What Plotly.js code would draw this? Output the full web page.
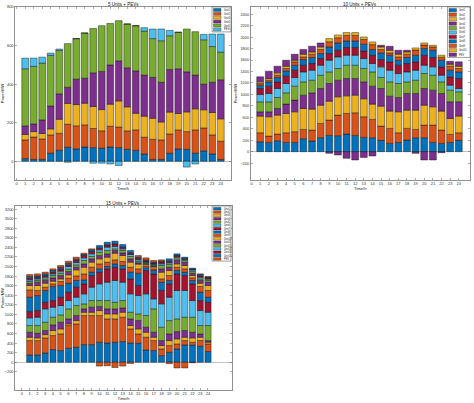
<!DOCTYPE html>
<html><head><meta charset="utf-8">
<script src="https://cdn.plot.ly/plotly-3.0.1.min.js"></script>
<style>html,body{margin:0;padding:0;background:#fff}#chart{width:474px;height:403px}</style>
</head><body><div id="chart"></div>
<script>
// ---------- data ----------
const hours = [1,2,3,4,5,6,7,8,9,10,11,12,13,14,15,16,17,18,19,20,21,22,23,24];
const tickVals = [0,1,2,3,4,5,6,7,8,9,10,11,12,13,14,15,16,17,18,19,20,21,22,23,24];
const tickText = ['0','1','2','3','4','5','6','7','8','9','10','11','12','13','14','15','16','17','18','19','20','21','22','23','24'];

// Panel 1: 5 Units + PEVs
const p1Names = ['Unit1','Unit2','Unit3','Unit4','Unit5','PEVs'];
const p1U1 = [14,10,10,42,57,73,64,74,71,68,74,71,62,57,38,10,10,42,64,62,42,54,38,10];
const p1U2 = [97,116,106,95,88,119,120,115,99,90,108,107,96,106,87,104,101,100,99,92,121,119,99,94];
const p1U3 = [28,28,28,31,73,108,110,112,114,110,114,135,124,86,109,109,93,113,85,102,109,94,116,116];
const p1U4 = [45,40,71,119,132,84,132,130,175,198,204,208,203,220,213,212,206,221,232,208,175,133,157,203];
const p1U5 = [296,298,294,262,225,226,210,234,230,237,215,208,227,234,228,201,215,175,189,222,225,230,185,143];
const p1PEV = [55,43,31,12,7,-5,0,0,-10,-10,-14,-22,0,0,18,50,61,28,0,-30,-14,28,65,94];

// Panel 2: 10 Units + PEVs
const p2Names = ['Unit1','Unit2','Unit3','Unit4','Unit5','Unit6','Unit7','Unit8','Unit9','Unit10','PEV'];
const p2U1 = [174,163,192,163,163,227,186,244,285,279,308,285,250,244,198,145,163,203,244,244,163,145,163,198];
const p2U2 = [157,110,116,168,186,162,192,250,267,360,360,395,360,320,249,262,168,204,145,221,302,233,139,133];
const p2U3 = [291,337,331,337,348,366,366,319,331,320,308,308,314,267,349,302,366,319,337,348,319,331,279,291];
const p2U4 = [75,87,116,163,204,233,284,291,308,290,302,290,296,314,308,261,250,291,291,291,291,308,291,250];
const p2U5 = [174,174,192,197,244,232,221,232,203,204,233,233,233,249,192,250,244,203,232,261,261,203,203,174];
const p2U6 = [129,146,157,163,151,174,175,175,204,203,174,174,174,146,186,204,174,174,175,146,146,116,87,58];
const p2U7 = [104,128,116,128,128,117,116,116,116,116,134,134,134,145,127,145,146,146,145,174,163,146,145,174];
const p2U8 = [58,75,76,93,87,98,105,87,116,128,116,116,116,99,117,116,87,105,116,116,127,116,117,116];
const p2U9 = [29,29,40,41,58,47,58,70,90,90,95,95,83,86,58,41,58,58,90,61,58,52,69,59];
const p2U10 = [29,29,41,40,29,47,40,46,55,49,50,50,44,47,46,46,47,40,38,38,29,35,35,40];
const p2PEV = [87,128,116,105,104,81,99,70,-29,-58,-116,-145,-99,-75,29,70,69,29,-29,-145,-145,-17,52,76];

// Panel 3: 15 Units + PEVs
const p3Names = ['Unit1','Unit2','Unit3','Unit4','Unit5','Unit6','Unit7','Unit8','Unit9','Unit10','Unit11','Unit12','Unit13','Unit14','Unit15','PEV'];
const p3U1 = [153,153,195,265,244,293,314,369,369,418,404,418,432,404,397,258,244,139,209,279,362,362,335,223];
const p3U2 = [300,300,314,293,348,474,487,607,607,558,502,488,509,293,195,265,209,140,139,104,91,56,118,160];
const p3U3 = [70,56,69,104,105,34,70,69,69,104,104,104,104,70,105,104,70,69,105,105,70,91,70,35];
const p3U4 = [104,97,84,119,139,105,105,70,105,84,105,105,91,139,174,105,104,105,139,153,139,118,69,35];
const p3U5 = [140,161,174,160,154,209,209,105,139,125,174,139,153,139,139,244,488,279,279,265,279,314,175,314];
const p3U6 = [160,174,279,209,195,174,174,209,279,349,384,454,384,384,384,453,209,488,488,593,558,348,313,278];
const p3U7 = [132,139,139,139,174,175,209,209,244,244,279,278,279,313,209,488,523,279,279,348,313,349,209,209];
const p3U8 = [300,314,245,293,244,188,140,84,70,70,49,70,69,140,258,58,70,174,70,70,70,70,175,105];
const p3U9 = [154,105,69,56,84,105,97,125,104,104,90,84,84,104,91,40,35,69,104,69,70,56,118,140];
const p3U10 = [90,104,84,56,55,69,126,139,105,105,105,139,125,105,98,30,38,140,105,70,69,48,70,104];
const p3U11 = [49,70,56,70,70,70,55,70,70,69,69,56,56,70,30,20,30,70,69,70,70,49,56,70];
const p3U12 = [35,35,34,48,49,49,49,70,49,70,70,35,49,49,25,20,20,69,56,35,35,42,34,35];
const p3U13 = [35,34,35,35,42,56,49,56,55,49,70,49,35,41,35,15,15,35,35,35,21,28,35,28];
const p3U14 = [34,35,35,35,49,34,42,48,49,42,48,55,35,35,30,20,15,35,35,34,21,14,28,28];
const p3U15 = [35,28,35,35,34,35,28,21,35,49,56,56,55,49,25,20,21,21,49,35,28,21,28,13];
const p3PEV = [42,42,35,35,35,42,42,28,21,-80,-75,-110,-80,-25,35,42,35,28,-30,-120,-120,-10,14,14];

const colors = ['#0072BD','#D95319','#EDB120','#7E2F8E','#77AC30','#4DBEEE','#A2142F'];

const panels = [
  {names:p1Names, series:[p1U1,p1U2,p1U3,p1U4,p1U5,p1PEV], xa:'x', ya:'y'},
  {names:p2Names, series:[p2U1,p2U2,p2U3,p2U4,p2U5,p2U6,p2U7,p2U8,p2U9,p2U10,p2PEV], xa:'x2', ya:'y2'},
  {names:p3Names, series:[p3U1,p3U2,p3U3,p3U4,p3U5,p3U6,p3U7,p3U8,p3U9,p3U10,p3U11,p3U12,p3U13,p3U14,p3U15,p3PEV], xa:'x3', ya:'y3'}
];

const traces = [];
panels.forEach(p => {
  p.series.forEach((s, i) => {
    traces.push({
      type:'bar', x:hours, y:s, name:p.names[i], xaxis:p.xa, yaxis:p.ya,
      marker:{color:colors[i % colors.length], line:{color:'#000', width:0.4}},
      showlegend:false, hoverinfo:'name+y'
    });
  });
});

// ---------- layout ----------
const W = 474, H = 403;
const px = v => v / W, py = v => 1 - v / H;
const FONT = 'Liberation Sans, Arial, sans-serif';
const tickFont = {family:FONT, size:4, color:'#333'};

function xAxis(dom, range, anchor) {
  return {domain:dom, range:range, anchor:anchor, tickvals:tickVals, ticktext:tickText,
    tickfont:tickFont, ticks:'inside', ticklen:2, tickwidth:0.4, tickcolor:'#333',
    showline:true, linecolor:'#444', linewidth:0.6, mirror:'ticks', showgrid:false, zeroline:false,
    title:{text:'Time/h', font:{family:FONT, size:4, color:'#222'}, standoff:1}, automargin:false};
}
function yAxis(dom, range, anchor, tv) {
  return {domain:dom, range:range, anchor:anchor, tickvals:tv,
    tickfont:tickFont, ticks:'inside', ticklen:2, tickwidth:0.4, tickcolor:'#333',
    showline:true, linecolor:'#444', linewidth:0.6, mirror:'ticks', showgrid:false,
    zeroline:true, zerolinecolor:'#888', zerolinewidth:0.5,
    title:{text:'Power/MW', font:{family:FONT, size:4, color:'#222'}, standoff:2}, automargin:false};
}
const tv1 = [0,200,400,600,800];
const tv2 = [-200,0,200,400,600,800,1000,1200,1400,1600,1800,2000,2200,2400];
const tv3 = [-200,0,200,400,600,800,1000,1200,1400,1600,1800,2000,2200,2400,2600,2800,3000,3200];

const layout = {
  width:W, height:H, margin:{l:0,r:0,t:0,b:0}, paper_bgcolor:'#fff', plot_bgcolor:'#fff',
  barmode:'relative', bargap:0.2, showlegend:false,
  font:{family:FONT},
  xaxis: xAxis([px(15), px(231)], [-0.2, 25.2], 'y'),
  yaxis: yAxis([py(180), py(7)], [-97, 800], 'x', tv1),
  xaxis2: xAxis([px(250.7), px(470)], [-0.1, 25.3], 'y2'),
  yaxis2: yAxis([py(180), py(7)], [-494, 2527], 'x2', tv2),
  xaxis3: xAxis([px(15), px(232)], [-0.9, 27.1], 'y3'),
  yaxis3: yAxis([py(390), py(206)], [-580, 3265], 'x3', tv3),
  shapes:[], annotations:[]
};

// panel titles
[['5 Units + PEVs', 123, 4.3], ['10 Units + PEVs', 360, 4.3], ['15 Units + PEVs', 123, 203]].forEach(t => {
  layout.annotations.push({text:t[0], x:px(t[1]), y:py(t[2]), xref:'paper', yref:'paper',
    showarrow:false, xanchor:'center', yanchor:'middle', font:{family:FONT, size:4.5, color:'#111'}});
});

// legends (drawn as layout items)
function addLegend(names, x0, y0, w, itemH) {
  const h = names.length * itemH + 1.5;
  layout.shapes.push({type:'rect', xref:'paper', yref:'paper', x0:px(x0), x1:px(x0+w), y0:py(y0+h), y1:py(y0),
    fillcolor:'#fff', line:{color:'#444', width:0.5}});
  names.forEach((n, i) => {
    const yc = y0 + 1 + itemH * (i + 0.5);
    layout.shapes.push({type:'rect', xref:'paper', yref:'paper', x0:px(x0+1.5), x1:px(x0+9), y0:py(yc+itemH*0.38), y1:py(yc-itemH*0.38),
      fillcolor:colors[i % colors.length], line:{color:'#000', width:0.3}});
    layout.annotations.push({text:n, x:px(x0+9.8), y:py(yc), xref:'paper', yref:'paper', showarrow:false,
      xanchor:'left', yanchor:'middle', font:{family:FONT, size:2.6, color:'#222'}});
  });
}
addLegend(p1Names, 212, 7, 19, 3.9);
addLegend(p2Names, 447.5, 7, 22.5, 4.45);
addLegend(p3Names, 212, 206, 19, 3.35);

Plotly.newPlot('chart', traces, layout, {staticPlot:true, displayModeBar:false});
</script>
</body></html>
